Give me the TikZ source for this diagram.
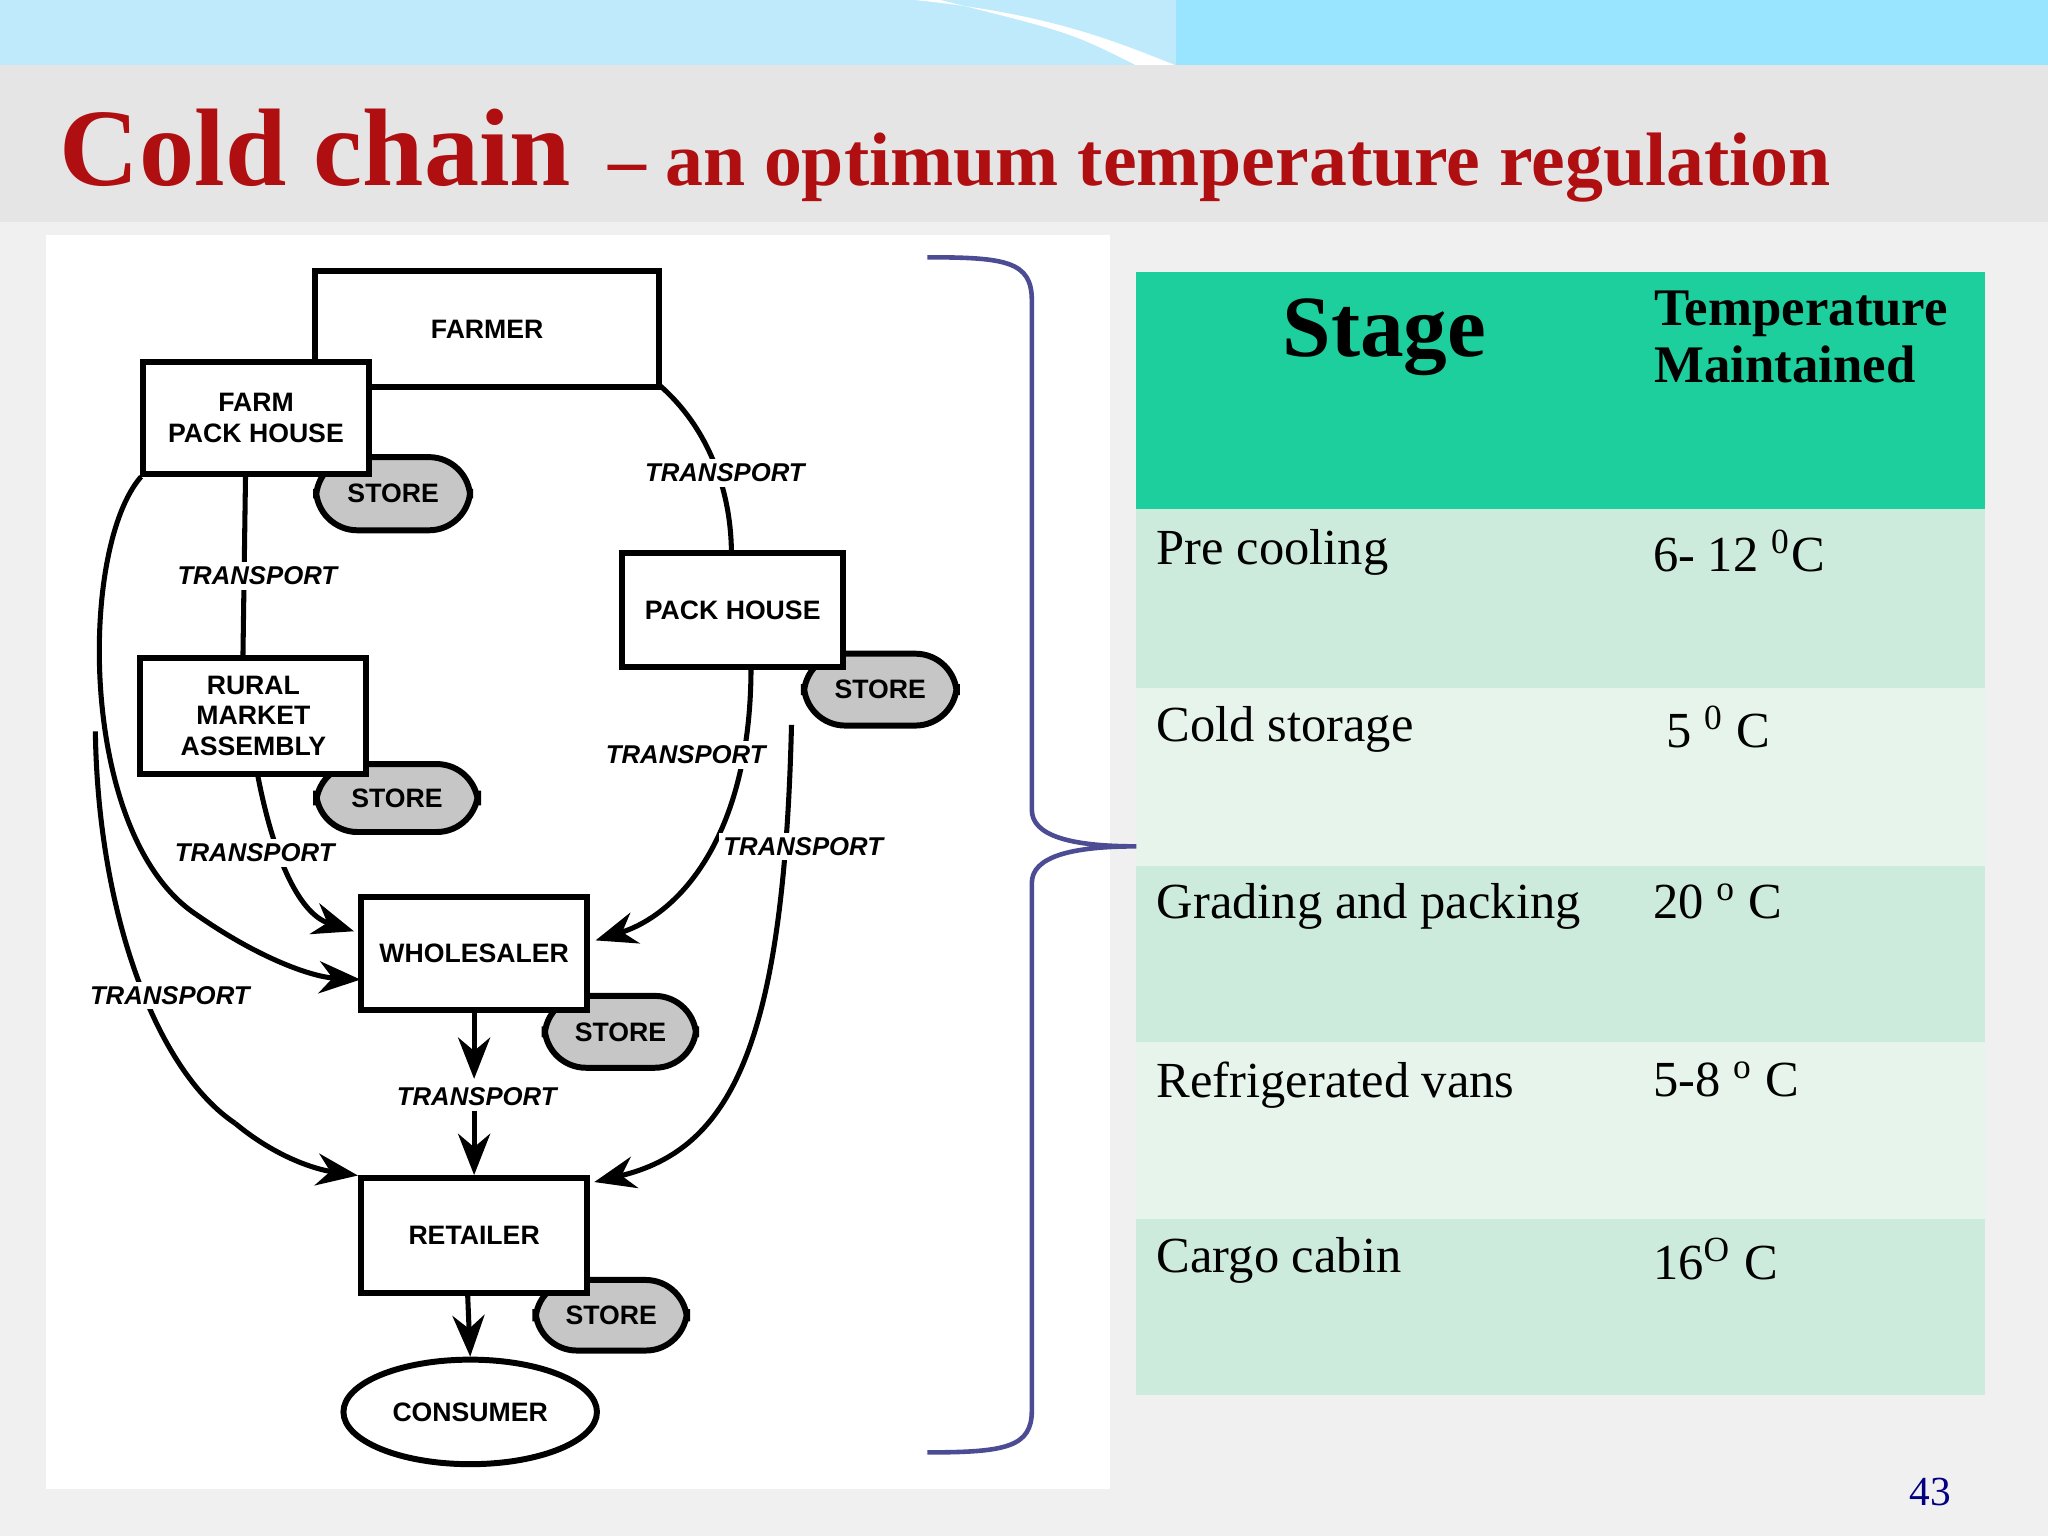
\documentclass[tikz,border=0pt]{standalone}
\usepackage{fontspec}
\setmainfont{Liberation Serif}
\newfontfamily\diag{Liberation Sans}
\usetikzlibrary{shapes.geometric,arrows.meta}
\definecolor{hdr}{HTML}{1DCF9C}
\definecolor{rowA}{HTML}{CDEBDD}
\definecolor{rowB}{HTML}{E6F4EC}
\definecolor{ttl}{HTML}{B00F12}
\begin{document}
\begin{tikzpicture}[x=0.01cm,y=-0.01cm,
  box/.style={draw,line width=1.3pt,fill=white,font=\diag\bfseries\fontsize{5.8}{6.6}\selectfont,align=center,inner sep=0pt},
  store/.style={draw,line width=1.3pt,fill=gray!45,rounded corners=9pt,font=\diag\bfseries\fontsize{5.8}{6.6}\selectfont,inner sep=0pt},
  tr/.style={font=\diag\bfseries\itshape\fontsize{5.6}{6.4}\selectfont,fill=white,inner sep=1pt},
  con/.style={line width=1.1pt},
  arr/.style={con,-{Stealth[length=9pt,width=7pt]}},
  cell/.style={font=\fontsize{11}{13}\selectfont,anchor=north west,inner sep=0}]
\useasboundingbox (0,0) rectangle (1568,1176);
\fill[gray!12] (0,0) rectangle (1568,1176);
\fill[cyan!25] (0,0) rectangle (1568,50);
\fill[white] (700,0) .. controls (800,10) and (850,30) .. (900,50) -- (870,50) .. controls (820,25) .. (720,0) -- cycle;
\fill[blue!25!cyan!40] (900,0) rectangle (1568,50);
\fill[gray!20] (0,50) rectangle (1568,170);
\node[anchor=base west,text=ttl,font=\bfseries\fontsize{24}{28}\selectfont,inner sep=0] (t1) at (45,142) {Cold chain};
\node[anchor=base west,text=ttl,font=\bfseries\fontsize{16.5}{20}\selectfont,inner sep=0] (t2) at (465,142) {– an optimum temperature regulation};
\fill[white] (35,180) rectangle (850,1140);
% table
\fill[hdr] (870,208) rectangle (1520,390);
\fill[rowA] (870,390) rectangle (1520,527);
\fill[rowB] (870,527) rectangle (1520,663);
\fill[rowA] (870,663) rectangle (1520,798);
\fill[rowB] (870,798) rectangle (1520,933);
\fill[rowA] (870,933) rectangle (1520,1068);
\node[font=\bfseries\fontsize{19}{22}\selectfont] (h1) at (1060,258) {Stage};
\node[font=\bfseries\fontsize{11.5}{12.5}\selectfont,align=left,anchor=north west,inner sep=0] (h2) at (1266,222) {Temperature\\Maintained};
\node[cell] (r1a) at (885,405) {Pre cooling};
\node[cell] (r1b) at (1265,405) {6- 12 \textsuperscript{0}C};
\node[cell] (r2a) at (885,540) {Cold storage};
\node[cell] (r2b) at (1275,540) {5 \textsuperscript{0} C};
\node[cell] (r3a) at (885,676) {Grading and packing};
\node[cell] (r3b) at (1265,676) {20 \textsuperscript{o} C};
\node[cell] (r4a) at (885,812) {Refrigerated vans};
\node[cell] (r4b) at (1265,812) {5-8 \textsuperscript{o} C};
\node[cell] (r5a) at (885,947) {Cargo cabin};
\node[cell] (r5b) at (1265,947) {16\textsuperscript{O} C};
\node[font=\fontsize{9}{10}\selectfont,text=blue!50!black] (pg) at (1478,1142) {43};
% brace
\draw[blue!40!black!70,line width=1pt] (710,197) .. controls (770,197) and (790,200) .. (790,230) -- (790,620) .. controls (790,640) and (820,648) .. (870,648) .. controls (820,648) and (790,656) .. (790,676) -- (790,1080) .. controls (790,1108) and (770,1112) .. (710,1112);
% diagram
\node[store,minimum width=118*0.2845pt,minimum height=56*0.2845pt] (s1) at (301,378) {STORE};
\node[box,minimum width=263*0.2845pt,minimum height=89*0.2845pt] (farmer) at (373,252) {FARMER};
\node[box,minimum width=173*0.2845pt,minimum height=86*0.2845pt] (fph) at (196,320) {FARM\\PACK HOUSE};
\node[store,minimum width=117*0.2845pt,minimum height=55*0.2845pt] (s2) at (674,528) {STORE};
\node[box,minimum width=169*0.2845pt,minimum height=87*0.2845pt] (ph) at (561,467) {PACK HOUSE};
\node[store,minimum width=124*0.2845pt,minimum height=52*0.2845pt] (s3) at (304,611) {STORE};
\node[box,minimum width=173*0.2845pt,minimum height=89*0.2845pt] (rma) at (194,548) {RURAL\\MARKET\\ASSEMBLY};
\node[store,minimum width=116*0.2845pt,minimum height=55*0.2845pt] (s4) at (475,790) {STORE};
\node[box,minimum width=173*0.2845pt,minimum height=87*0.2845pt] (wh) at (363,730) {WHOLESALER};
\node[store,minimum width=116*0.2845pt,minimum height=54*0.2845pt] (s5) at (468,1007) {STORE};
\node[box,minimum width=173*0.2845pt,minimum height=88*0.2845pt] (ret) at (363,946) {RETAILER};
\node[box,ellipse,minimum width=194*0.2845pt,minimum height=80*0.2845pt] (cons) at (360,1081) {CONSUMER};
\coordinate (split) at (73,560);
% connectors
\draw[con] (505,295) .. controls (545,330) and (560,380) .. (560,424);
\draw[con] (188,363) -- (186,503);
\draw[arr] (197,592) .. controls (210,660) and (230,700) .. (271,713);
\draw[arr] (108,365) .. controls (60,420) and (60,640) .. (150,700) .. controls (200,735) and (240,748) .. (276,750);
\draw[con] (split) .. controls (75,700) and (120,820) .. (180,860) ;
\draw[arr] (180,860) .. controls (210,885) and (240,895) .. (274,900);
\draw[arr] (575,511) .. controls (575,640) and (520,700) .. (456,720);
\draw[arr] (606,555) .. controls (600,800) and (560,880) .. (455,905);
\draw[arr] (wh.south) -- (363,826);
\draw[arr] (363,850) -- (ret.north);
\draw[arr] (358,990) -- (cons.north);
\node[tr] (l1) at (555,362) {TRANSPORT};
\node[tr] (l2) at (197,441) {TRANSPORT};
\node[tr] (l3) at (525,578) {TRANSPORT};
\node[tr] (l4) at (195,653) {TRANSPORT};
\node[tr] (l5) at (615,648) {TRANSPORT};
\node[tr] (l6) at (130,762) {TRANSPORT};
\node[tr] (l7) at (365,840) {TRANSPORT};
\end{tikzpicture}
\end{document}
